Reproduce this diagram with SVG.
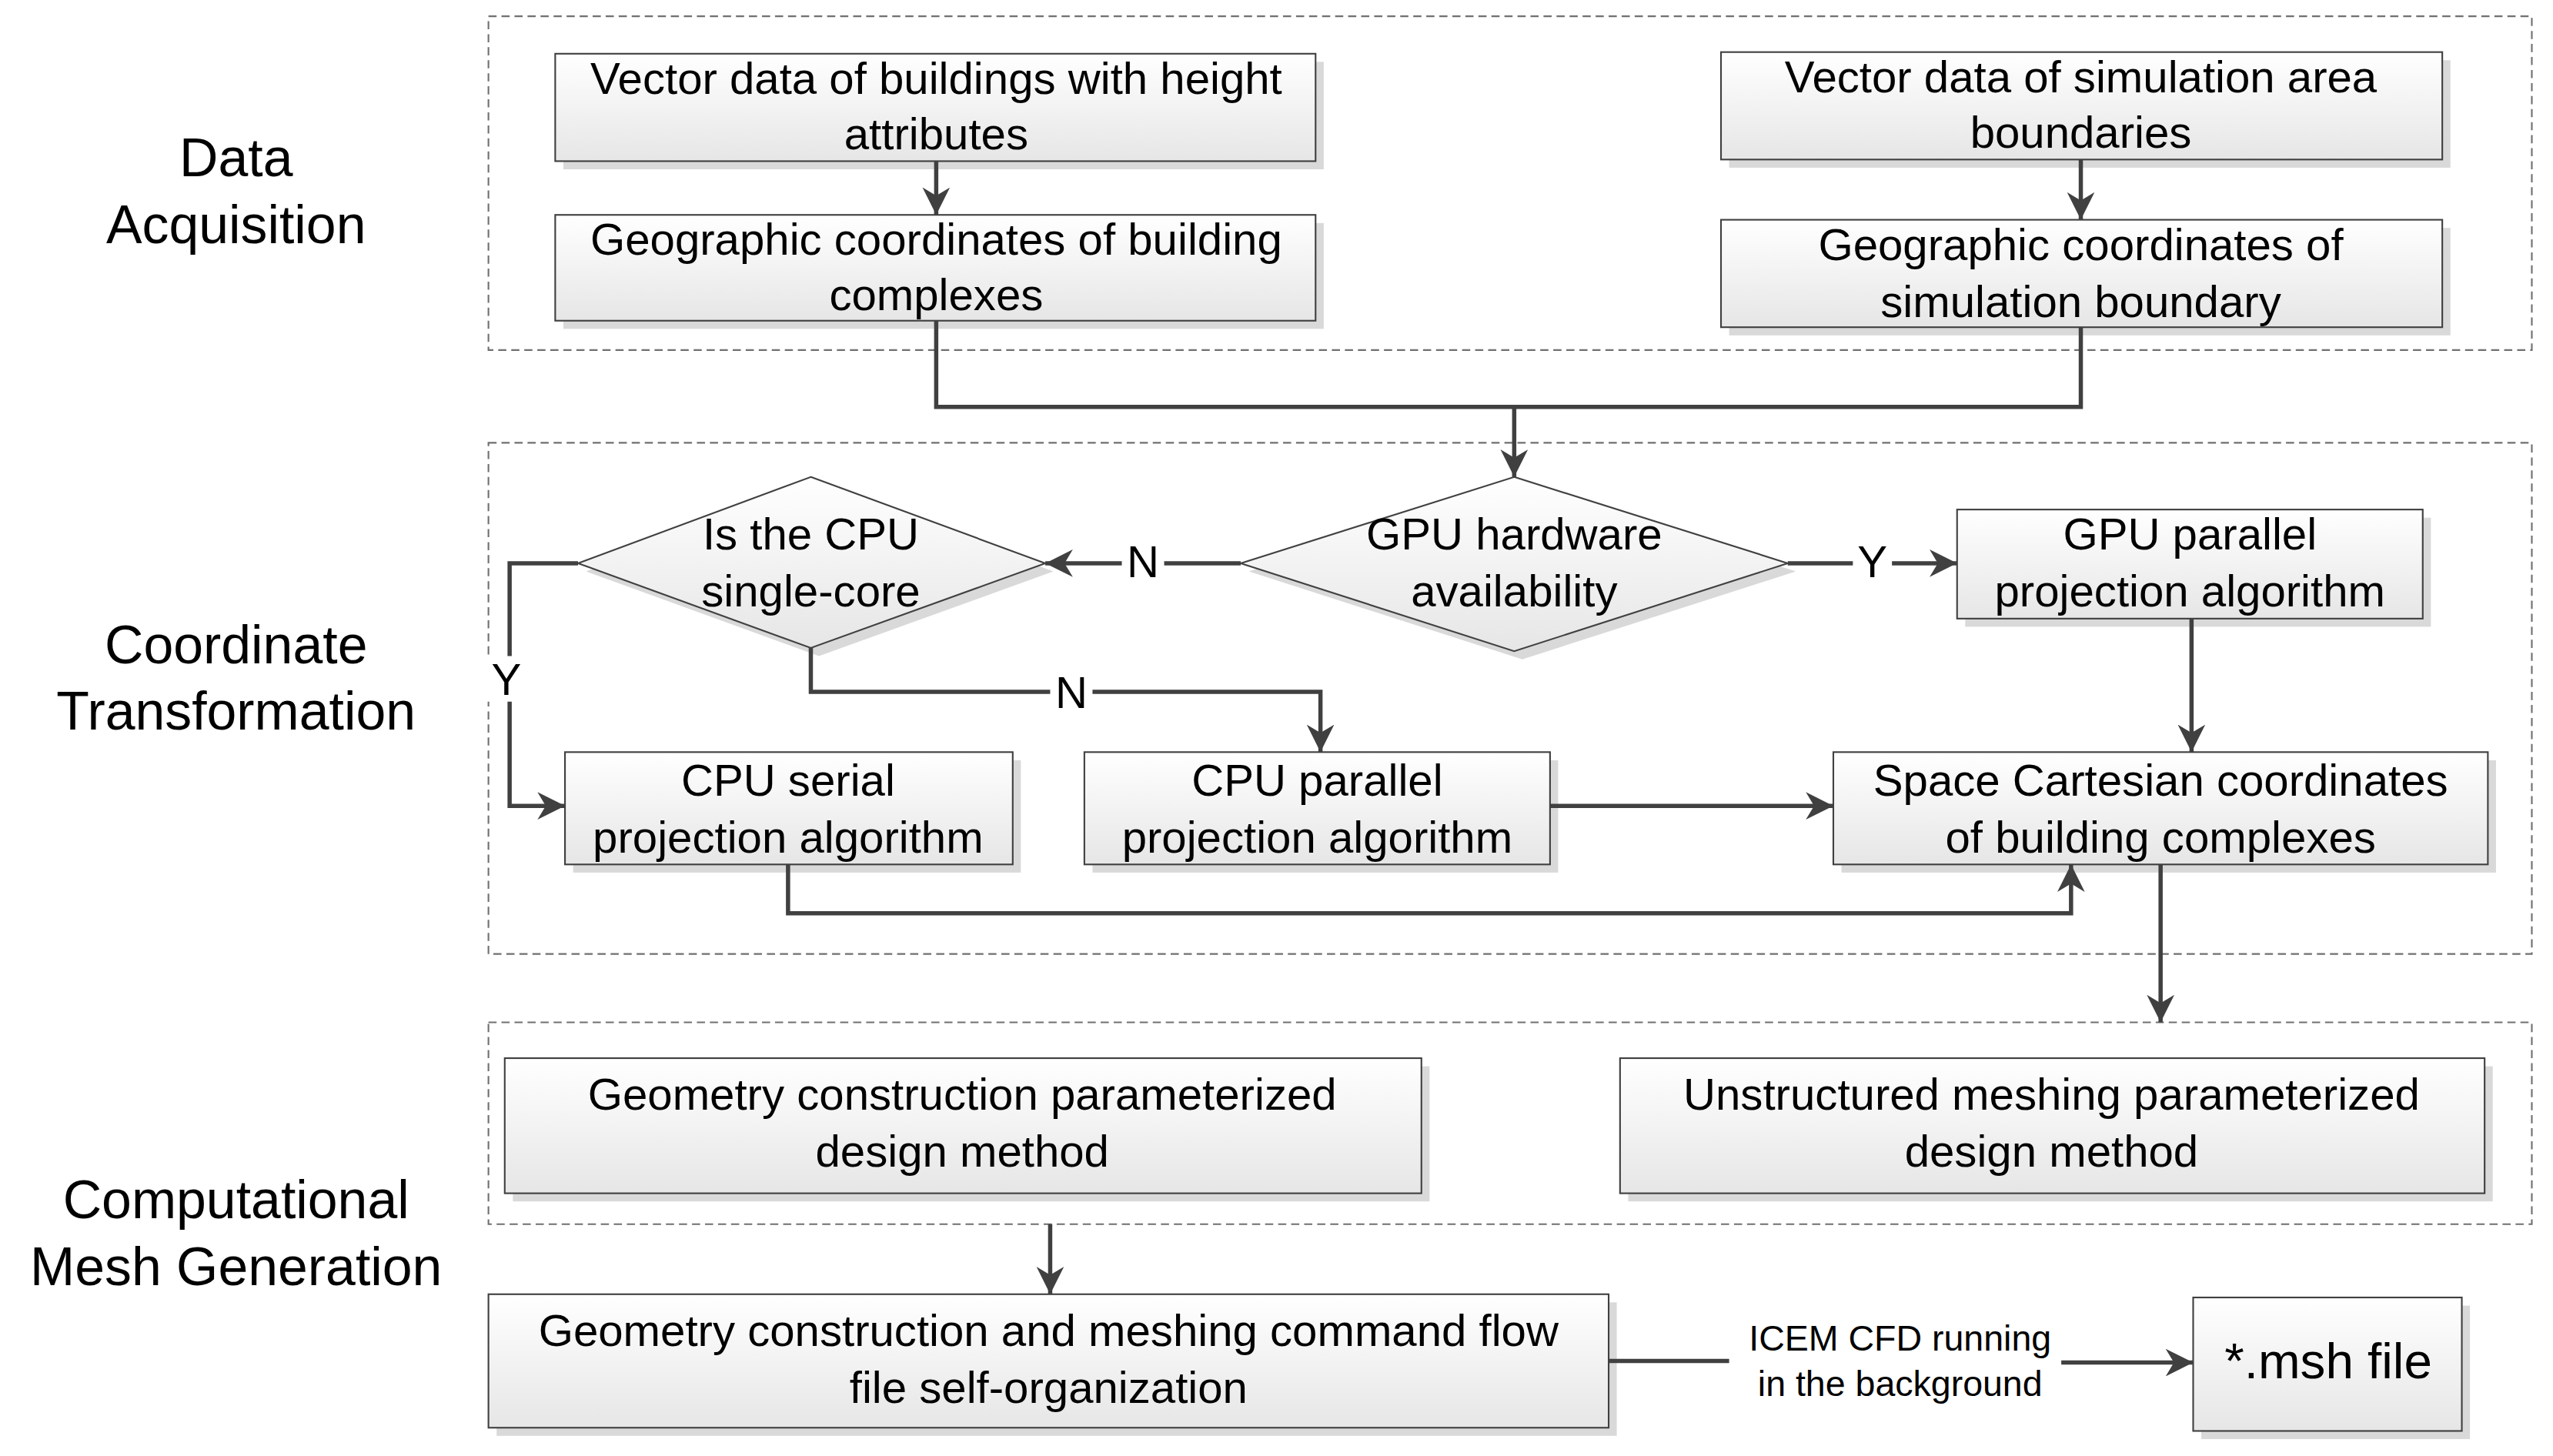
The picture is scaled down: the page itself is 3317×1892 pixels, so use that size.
<svg xmlns="http://www.w3.org/2000/svg" width="3317" height="1892" viewBox="0 0 3317 1892">
<defs>
<linearGradient id="g" x1="0" y1="0" x2="0" y2="1"><stop offset="0" stop-color="#ffffff"/><stop offset="1" stop-color="#e6e6e6"/></linearGradient>
<marker id="b" viewBox="0 0 10 10" refX="10" refY="5" markerWidth="6.5" markerHeight="6.5" orient="auto"><path d="M0,0 L10,5 L0,10 L3,5 Z" fill="#404040"/></marker>
<style>
.bx{fill:url(#g);stroke:#404040;stroke-width:1}
.sh{fill:#d9d9d9}
.pn{fill:none;stroke:#707070;stroke-width:1;stroke-dasharray:5 3}
.t{font-family:'Liberation Sans',Arial,sans-serif;font-size:27.5px;text-anchor:middle;dominant-baseline:central;fill:#000}
.L{font-size:33px}
.s{font-size:22px}
.c{fill:none;stroke:#404040;stroke-width:2.6}
</style>
</defs>
<rect width="3317" height="1892" fill="#fff"/>
<g transform="scale(2.11543)" font-family="'Liberation Sans', Arial, sans-serif">
<g id="panels">
<rect class="pn" x="300" y="10" width="1255" height="205"/>
<rect class="pn" x="300" y="272" width="1255" height="314"/>
<rect class="pn" x="300" y="628" width="1255" height="124"/>
</g>
<g id="labels">
<text class="t L" x="145" y="97">Data</text><text class="t L" x="145" y="138">Acquisition</text>
<text class="t L" x="145" y="396">Coordinate</text><text class="t L" x="145" y="437">Transformation</text>
<text class="t L" x="145" y="737">Computational</text><text class="t L" x="145" y="778">Mesh Generation</text>
</g>
<g id="n1"><rect class="sh" x="346" y="38" width="467" height="66"/><rect class="bx" x="341" y="33" width="467" height="66"/><text class="t" x="575" y="48">Vector data of buildings with height</text><text class="t" x="575" y="82">attributes</text></g>
<g id="n2"><rect class="sh" x="346" y="137" width="467" height="65"/><rect class="bx" x="341" y="132" width="467" height="65"/><text class="t" x="575" y="147">Geographic coordinates of building</text><text class="t" x="575" y="181">complexes</text></g>
<g id="n3"><rect class="sh" x="1062" y="37" width="443" height="66"/><rect class="bx" x="1057" y="32" width="443" height="66"/><text class="t" x="1278" y="47">Vector data of simulation area</text><text class="t" x="1278" y="81">boundaries</text></g>
<g id="n4"><rect class="sh" x="1062" y="140" width="443" height="66"/><rect class="bx" x="1057" y="135" width="443" height="66"/><text class="t" x="1278" y="150">Geographic coordinates of</text><text class="t" x="1278" y="185">simulation boundary</text></g>
<g id="d1"><polygon class="sh" points="935,298 1103,351 935,405 767,351"/><polygon class="bx" points="930,293 1098,346 930,400 762,346"/><text class="t" x="930" y="328">GPU hardware</text><text class="t" x="930" y="363">availability</text></g>
<g id="d2"><polygon class="sh" points="503,298 647,351 503,403 360,351"/><polygon class="bx" points="498,293 642,346 498,398 355,346"/><text class="t" x="498" y="328">Is the CPU</text><text class="t" x="498" y="363">single-core</text></g>
<g id="n5"><rect class="sh" x="1207" y="318" width="286" height="67"/><rect class="bx" x="1202" y="313" width="286" height="67"/><text class="t" x="1345" y="328">GPU parallel</text><text class="t" x="1345" y="363">projection algorithm</text></g>
<g id="n6"><rect class="sh" x="352" y="467" width="275" height="69"/><rect class="bx" x="347" y="462" width="275" height="69"/><text class="t" x="484" y="479">CPU serial</text><text class="t" x="484" y="514">projection algorithm</text></g>
<g id="n7"><rect class="sh" x="671" y="467" width="286" height="69"/><rect class="bx" x="666" y="462" width="286" height="69"/><text class="t" x="809" y="479">CPU parallel</text><text class="t" x="809" y="514">projection algorithm</text></g>
<g id="n8"><rect class="sh" x="1131" y="467" width="402" height="69"/><rect class="bx" x="1126" y="462" width="402" height="69"/><text class="t" x="1327" y="479">Space Cartesian coordinates</text><text class="t" x="1327" y="514">of building complexes</text></g>
<g id="n9"><rect class="sh" x="315" y="655" width="563" height="83"/><rect class="bx" x="310" y="650" width="563" height="83"/><text class="t" x="591" y="672">Geometry construction parameterized</text><text class="t" x="591" y="707">design method</text></g>
<g id="n10"><rect class="sh" x="1000" y="655" width="531" height="83"/><rect class="bx" x="995" y="650" width="531" height="83"/><text class="t" x="1260" y="672">Unstructured meshing parameterized</text><text class="t" x="1260" y="707">design method</text></g>
<g id="n11"><rect class="sh" x="305" y="800" width="688" height="82"/><rect class="bx" x="300" y="795" width="688" height="82"/><text class="t" x="644" y="817">Geometry construction and meshing command flow</text><text class="t" x="644" y="852">file self-organization</text></g>
<g id="n12"><rect class="sh" x="1352" y="802" width="165" height="82"/><rect class="bx" x="1347" y="797" width="165" height="82"/><text class="t" x="1430" y="836" style="font-size:31px">*.msh file</text></g>
<g id="connectors">
<path class="c" d="M575,99 V132" marker-end="url(#b)"/>
<path class="c" d="M1278,98 V135" marker-end="url(#b)"/>
<path class="c" d="M575,197 V250 H1278 V201"/>
<path class="c" d="M930,250 V293" marker-end="url(#b)"/>
<path class="c" d="M762,346 H642" marker-end="url(#b)"/>
<path class="c" d="M1098,346 H1202" marker-end="url(#b)"/>
<path class="c" d="M355,346 H313 V495 H347" marker-end="url(#b)"/>
<path class="c" d="M498,398 V425 H811 V462" marker-end="url(#b)"/>
<path class="c" d="M952,495 H1126" marker-end="url(#b)"/>
<path class="c" d="M484,531 V561 H1272 V531" marker-end="url(#b)"/>
<path class="c" d="M1346,380 V462" marker-end="url(#b)"/>
<path class="c" d="M1327,531 V628" marker-end="url(#b)"/>
<path class="c" d="M645,752 V795" marker-end="url(#b)"/>
<path class="c" d="M988,836 H1062"/>
<path class="c" d="M1266,837 H1347" marker-end="url(#b)"/>
<rect x="689" y="332" width="26" height="28" fill="#fff"/><text class="t" x="702" y="345">N</text>
<rect x="1138" y="332" width="24" height="28" fill="#fff"/><text class="t" x="1150" y="345">Y</text>
<rect x="298" y="403" width="26" height="28" fill="#fff"/><text class="t" x="311" y="417">Y</text>
<rect x="645" y="411" width="26" height="28" fill="#fff"/><text class="t" x="658" y="425">N</text>
<text class="t s" x="1167" y="822">ICEM CFD running</text><text class="t s" x="1167" y="850">in the background</text>
</g>
</g>
</svg>
